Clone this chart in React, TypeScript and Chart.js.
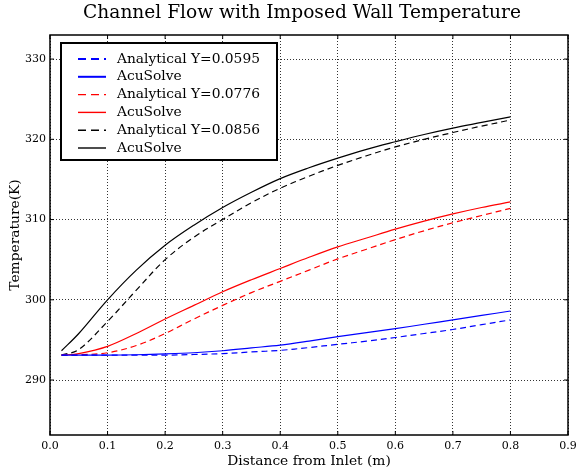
import React, { useEffect, useRef } from 'react';
import { Chart, registerables } from 'chart.js';

Chart.register(...registerables);

// distance from inlet (m)
const distance = [0.02, 0.05, 0.1, 0.15, 0.2, 0.25, 0.3, 0.35, 0.4, 0.45, 0.5, 0.55, 0.6, 0.65, 0.7, 0.75, 0.8];

const analytical0595 = [293.1, 293.1, 293.1, 293.1, 293.1, 293.18, 293.3, 293.5, 293.7, 294.05, 294.45, 294.85, 295.3, 295.8, 296.3, 296.9, 297.5];
const acuSolve0595 = [293.1, 293.1, 293.1, 293.15, 293.25, 293.4, 293.65, 294.0, 294.35, 294.85, 295.4, 295.9, 296.4, 296.95, 297.5, 298.05, 298.6];
const analytical0776 = [293.1, 293.15, 293.4, 294.3, 295.8, 297.6, 299.3, 300.9, 302.3, 303.7, 305.1, 306.3, 307.5, 308.6, 309.6, 310.5, 311.4];
const acuSolve0776 = [293.1, 293.3, 294.2, 295.8, 297.6, 299.3, 301.0, 302.5, 303.9, 305.3, 306.6, 307.7, 308.8, 309.8, 310.7, 311.5, 312.2];
const analytical0856 = [293.1, 293.8, 297.3, 301.2, 305.0, 307.8, 310.0, 312.1, 313.9, 315.4, 316.75, 317.95, 319.05, 320.0, 320.85, 321.65, 322.4];
const acuSolve0856 = [293.65, 295.8, 300.0, 303.7, 306.8, 309.3, 311.5, 313.4, 315.1, 316.45, 317.65, 318.75, 319.7, 320.6, 321.4, 322.1, 322.8];

const xTicks = [0, 0.1, 0.2, 0.3, 0.4, 0.5, 0.6, 0.7, 0.8, 0.9];
const yTicks = [290, 300, 310, 320, 330];

const titleText = 'Channel Flow with Imposed Wall Temperature';
const SERIF = '"DejaVu Serif", serif';

const toPoints = (ys: number[]) => ys.map((y, i) => ({ x: distance[i], y }));

// frame, inward ticks, title and the boxed legend (matplotlib look)
const mplDecor = {
  id: 'mplDecor',
  afterDraw(chart: any) {
    const { ctx, chartArea: a, scales } = chart;
    ctx.save();

    ctx.strokeStyle = '#000';
    ctx.lineWidth = 1;
    ctx.setLineDash([]);
    ctx.beginPath();
    xTicks.forEach((v) => {
      const px = scales.x.getPixelForValue(v);
      ctx.moveTo(px, a.bottom); ctx.lineTo(px, a.bottom - 4);
      ctx.moveTo(px, a.top); ctx.lineTo(px, a.top + 4);
    });
    yTicks.forEach((v) => {
      const py = scales.y.getPixelForValue(v);
      ctx.moveTo(a.left, py); ctx.lineTo(a.left + 4, py);
      ctx.moveTo(a.right, py); ctx.lineTo(a.right - 4, py);
    });
    ctx.stroke();

    ctx.lineWidth = 1.5;
    ctx.strokeRect(a.left, a.top, a.right - a.left, a.bottom - a.top);

    // title
    ctx.fillStyle = '#000';
    ctx.font = `18.6px ${SERIF}`;
    ctx.textAlign = 'center';
    ctx.textBaseline = 'middle';
    ctx.fillText(titleText, 302, 13);

    // legend
    const bx = a.left + 11;
    const by = a.top + 8;
    const bw = 216;
    const bh = 117;
    ctx.fillStyle = '#fff';
    ctx.fillRect(bx, by, bw, bh);
    ctx.lineWidth = 2;
    ctx.strokeRect(bx, by, bw, bh);

    ctx.font = `13.8px ${SERIF}`;
    ctx.textAlign = 'left';
    chart.data.datasets.forEach((ds: any, i: number) => {
      const y = by + 16 + i * 17.8;
      ctx.strokeStyle = ds.borderColor;
      ctx.lineWidth = i < 2 ? 2 : 1.4;
      ctx.setLineDash(ds.borderDash ? [8, 5] : []);
      ctx.beginPath();
      ctx.moveTo(bx + 17, y);
      ctx.lineTo(bx + 45, y);
      ctx.stroke();
      ctx.setLineDash([]);
      ctx.fillStyle = '#000';
      ctx.fillText(ds.label, bx + 56, y);
    });

    ctx.restore();
  },
};

const App: React.FC = () => {
  const canvasRef = useRef<HTMLCanvasElement>(null);
  const chartRef = useRef<Chart | null>(null);

  useEffect(() => {
    if (!canvasRef.current) return;
    const ctx = canvasRef.current.getContext('2d');
    if (!ctx) return;

    const line = (label: string, data: number[], color: string, dashed: boolean) => ({
      label,
      data: toPoints(data),
      borderColor: color,
      backgroundColor: color,
      borderWidth: 1.2,
      borderDash: dashed ? [6, 4] : undefined,
      pointRadius: 0,
      tension: 0.35,
      fill: false,
    });

    chartRef.current = new Chart(ctx, {
      type: 'line',
      data: {
        datasets: [
          line('Analytical Y=0.0595', analytical0595, '#0000ff', true),
          line('AcuSolve', acuSolve0595, '#0000ff', false),
          line('Analytical Y=0.0776', analytical0776, '#ff0000', true),
          line('AcuSolve', acuSolve0776, '#ff0000', false),
          line('Analytical Y=0.0856', analytical0856, '#000000', true),
          line('AcuSolve', acuSolve0856, '#000000', false),
        ],
      },
      plugins: [mplDecor],
      options: {
        responsive: true,
        maintainAspectRatio: false,
        animation: false,
        layout: { padding: { top: 35, right: 15, left: 0, bottom: 0 } },
        scales: {
          x: {
            type: 'linear',
            min: 0,
            max: 0.9,
            afterBuildTicks: (scale: any) => {
              scale.ticks = xTicks.map((value) => ({ value }));
            },
            afterFit: (scale: any) => {
              scale.height = 40;
              scale.paddingLeft = 0;
              scale.paddingRight = 0;
            },
            ticks: {
              color: '#000',
              padding: 5,
              maxRotation: 0,
              font: { family: SERIF, size: 11 },
              callback: (v: any) => Number(v).toFixed(1),
            },
            grid: { color: 'rgba(0,0,0,0.8)', lineWidth: 1, drawTicks: false },
            border: { display: false, dash: [1, 2] },
            title: {
              display: true,
              text: 'Distance from Inlet (m)',
              color: '#000',
              font: { family: SERIF, size: 13.8 },
              padding: { top: 0, bottom: 5 },
            },
          },
          y: {
            type: 'linear',
            min: 283.15,
            max: 333,
            afterBuildTicks: (scale: any) => {
              scale.ticks = yTicks.map((value) => ({ value }));
            },
            afterFit: (scale: any) => {
              scale.width = 50;
              scale.paddingTop = 0;
              scale.paddingBottom = 0;
            },
            ticks: {
              color: '#000',
              padding: 4,
              font: { family: SERIF, size: 11 },
              callback: (v: any) => String(v),
            },
            grid: { color: 'rgba(0,0,0,0.8)', lineWidth: 1, drawTicks: false },
            border: { display: false, dash: [1, 2] },
            title: {
              display: true,
              text: 'Temperature(K)',
              color: '#000',
              font: { family: SERIF, size: 13.8 },
              padding: { top: 7, bottom: 0 },
            },
          },
        },
        plugins: {
          legend: { display: false },
          title: { display: false },
          tooltip: { enabled: false },
        },
      },
    });

    return () => chartRef.current?.destroy();
  }, []);

  return (
    <div style={{ position: 'fixed', left: 0, top: 0, width: 583, height: 475, background: '#fff' }}>
      <canvas ref={canvasRef} style={{ width: '100%', height: '100%' }} />
    </div>
  );
};

export default App;
